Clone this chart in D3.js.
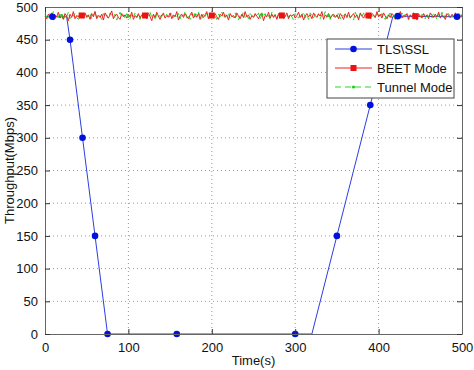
<!DOCTYPE html>
<html>
<head>
<meta charset="utf-8">
<script src="https://d3js.org/d3.v7.min.js"></script>
<style>
  body { margin: 0; background: #fff; }
  text { font-family: "Liberation Sans", Arial, sans-serif; }
</style>
</head>
<body>
<script>
// TLS\SSL line (time, throughput) and where its markers sit
const tlsTime  = [0, 26, 30, 45, 60, 75, 158, 300, 320, 350, 390, 417, 423, 494, 500];
const tlsValue = [485, 485, 450, 300, 150, 0, 0, 0, 0, 150, 350, 485, 486, 485, 485];
const tlsMarkTime  = [9, 30, 45, 60, 75, 158, 300, 350, 390, 423, 494];
const tlsMarkValue = [485, 450, 300, 150, 0, 0, 0, 150, 350, 486, 485];

// BEET / Tunnel sampled every 2 s from 0 to 500
const sampleStep = 2;
const beetValue = [
  486,482,489,484,491,480,487,485,492,483,488,481,490,486,479,489,484,493,482,487,485,490,487,483,491,
  484,488,481,490,485,493,482,487,484,489,480,491,486,483,488,494,482,486,489,484,481,490,485,488,483,
  489,485,492,481,487,484,490,483,488,486,487,482,491,485,479,489,484,492,486,481,488,490,483,487,485,
  491,482,488,485,493,480,487,489,484,490,486,482,488,492,483,487,485,490,481,489,484,488,493,482,486,
  487,483,490,485,481,489,486,492,484,488,480,490,485,487,483,491,486,482,489,484,493,485,488,481,487,
  484,490,486,482,488,491,479,487,485,492,483,489,484,488,481,490,486,487,483,485,491,482,488,486,489,
  483,487,492,484,489,480,486,490,485,488,482,491,487,484,489,486,493,481,488,485,490,483,487,489,484,
  488,482,490,486,481,489,485,492,483,487,490,484,488,480,491,486,483,489,485,487,482,490,488,484,493,
  485,489,483,491,486,482,488,484,490,487,481,489,486,493,483,487,485,490,482,488,484,491,486,480,489,
  486,483,490,485,488,482,491,487,484,489,485,492,483,488,486,481,490,487,484,489,485,491,482,488,486,
  487];
const tunnelValue = [
  489,485,481,490,486,493,483,488,484,491,487,480,489,485,492,482,488,486,490,484,481,489,487,492,483,
  488,485,490,482,487,493,484,489,486,481,490,485,488,483,491,487,484,489,480,486,492,485,488,483,490,
  486,482,489,485,491,484,488,481,490,487,483,489,486,492,484,488,480,490,485,487,483,491,486,489,482,
  487,491,484,488,485,490,482,489,486,493,483,487,481,490,485,488,484,492,486,482,489,485,491,483,488,
  484,490,486,481,489,485,492,483,488,486,490,482,487,484,491,485,480,489,486,493,484,488,482,490,487,
  483,489,485,491,482,488,486,490,484,487,481,492,485,489,483,488,486,491,482,487,490,484,489,485,480,
  490,486,483,489,485,492,484,488,481,491,487,483,489,485,490,482,488,486,493,484,487,481,490,485,489,
  485,491,482,488,486,490,483,489,484,487,480,492,486,483,489,485,491,484,488,482,490,486,487,483,489,
  488,484,490,485,481,489,486,493,482,488,485,490,483,487,491,484,489,486,480,488,485,492,483,487,490,
  484,489,486,482,490,485,488,483,491,487,481,489,485,492,484,488,486,490,482,487,485,491,484,488,486,
  489];
const beetMarkIdx = [22, 60, 100, 142, 194, 222];
const tunnelMarkIdx = [10, 50, 90, 130, 170, 210, 248];

const xTicks = [0, 100, 200, 300, 400, 500];
const yTicks = [0, 50, 100, 150, 200, 250, 300, 350, 400, 450, 500];
const legendNames = ["TLS\\SSL", "BEET Mode", "Tunnel Mode"];

const W = 474, H = 370;
const pLeft = 45, pRight = 462, pTop = 7, pBottom = 334;

const svg = d3.select("body").append("svg")
  .attr("width", W).attr("height", H);

const x = d3.scaleLinear().domain([0, 500]).range([pLeft, pRight]);
const y = d3.scaleLinear().domain([0, 500]).range([pBottom, pTop]);

// grid
svg.append("g").selectAll("line").data(xTicks.slice(1, -1)).enter().append("line")
  .attr("x1", d => x(d)).attr("x2", d => x(d)).attr("y1", pTop).attr("y2", pBottom)
  .attr("stroke", "#999").attr("stroke-dasharray", "1,3");
svg.append("g").selectAll("line").data(yTicks.slice(1, -1)).enter().append("line")
  .attr("y1", d => y(d)).attr("y2", d => y(d)).attr("x1", pLeft).attr("x2", pRight)
  .attr("stroke", "#999").attr("stroke-dasharray", "1,3");

const samples = d3.range(beetValue.length).map(i => i * sampleStep);

const line = d3.line().x(d => x(d[0])).y(d => y(d[1]));

// TLS line
svg.append("path")
  .datum(tlsTime.map((t, i) => [t, tlsValue[i]]))
  .attr("d", line).attr("fill", "none")
  .attr("stroke", "#2b3fe0").attr("stroke-width", 1);

// tunnel (dashed green)
svg.append("path")
  .datum(samples.map((t, i) => [t, tunnelValue[i]]))
  .attr("d", line).attr("fill", "none")
  .attr("stroke", "#22dd22").attr("stroke-width", 1)
  .attr("stroke-dasharray", "5,3");

// beet (red)
svg.append("path")
  .datum(samples.map((t, i) => [t, beetValue[i]]))
  .attr("d", line).attr("fill", "none")
  .attr("stroke", "#ee2222").attr("stroke-width", 1);

// markers
svg.append("g").selectAll("circle").data(tunnelMarkIdx).enter().append("circle")
  .attr("cx", i => x(samples[i])).attr("cy", i => y(tunnelValue[i]))
  .attr("r", 1.6).attr("fill", "#22cc22");
svg.append("g").selectAll("rect").data(beetMarkIdx).enter().append("rect")
  .attr("x", i => x(samples[i]) - 3).attr("y", i => y(beetValue[i]) - 3)
  .attr("width", 6).attr("height", 6).attr("fill", "#ee1111");
svg.append("g").selectAll("circle").data(tlsMarkTime).enter().append("circle")
  .attr("cx", d => x(d)).attr("cy", (d, i) => y(tlsMarkValue[i]))
  .attr("r", 3.3).attr("fill", "#0011dd");

// axes box with inward ticks
const fmt = d3.format("d");
const gx = svg.append("g").attr("transform", `translate(0,${pBottom})`)
  .call(d3.axisBottom(x).tickValues(xTicks).tickFormat(fmt).tickSizeInner(-5).tickSizeOuter(0).tickPadding(9));
const gy = svg.append("g").attr("transform", `translate(${pLeft},0)`)
  .call(d3.axisLeft(y).tickValues(yTicks).tickFormat(fmt).tickSizeInner(-5).tickSizeOuter(0).tickPadding(7));
const gt = svg.append("g").attr("transform", `translate(0,${pTop})`)
  .call(d3.axisTop(x).tickValues(xTicks).tickFormat("").tickSizeInner(-5).tickSizeOuter(0));
const gr = svg.append("g").attr("transform", `translate(${pRight},0)`)
  .call(d3.axisRight(y).tickValues(yTicks).tickFormat("").tickSizeInner(-5).tickSizeOuter(0));
[gx, gy, gt, gr].forEach(g => {
  g.select(".domain").attr("stroke", "#666");
  g.selectAll(".tick line").attr("stroke", "#333");
  g.selectAll("text").attr("fill", "#111").attr("font-size", 13)
    .attr("font-family", "Liberation Sans, Arial, sans-serif");
});

// axis titles
svg.append("text").attr("x", (pLeft + pRight) / 2).attr("y", 365)
  .attr("text-anchor", "middle").attr("font-size", 13).attr("fill", "#111").text("Time(s)");
svg.append("text").attr("transform", `translate(14,${(pTop + pBottom) / 2}) rotate(-90)`)
  .attr("text-anchor", "middle").attr("font-size", 13).attr("fill", "#111").text("Throughput(Mbps)");

// legend
const lg = svg.append("g");
lg.append("rect").attr("x", 327).attr("y", 39).attr("width", 127).attr("height", 59)
  .attr("fill", "#fff").attr("stroke", "#444");
const legColors = ["#2b3fe0", "#ee2222", "#22dd22"];
legendNames.forEach((name, i) => {
  const ly = 49 + i * 19;
  lg.append("line").attr("x1", 335).attr("x2", 372).attr("y1", ly).attr("y2", ly)
    .attr("stroke", legColors[i]).attr("stroke-dasharray", i === 2 ? "6,4" : null);
  if (i === 0) lg.append("circle").attr("cx", 353.5).attr("cy", ly).attr("r", 3.3).attr("fill", "#0011dd");
  if (i === 1) lg.append("rect").attr("x", 350.5).attr("y", ly - 3).attr("width", 6).attr("height", 6).attr("fill", "#ee1111");
  if (i === 2) lg.append("circle").attr("cx", 353.5).attr("cy", ly).attr("r", 1.6).attr("fill", "#22cc22");
  lg.append("text").attr("x", 377).attr("y", ly + 5).attr("font-size", 13)
    .attr("fill", "#111").text(name);
});
</script>
</body>
</html>
